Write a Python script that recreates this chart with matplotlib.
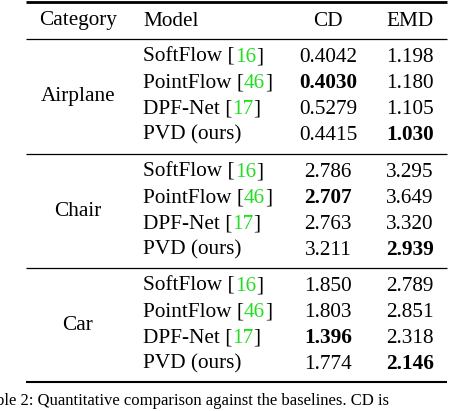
import matplotlib
matplotlib.use("Agg")
import matplotlib.pyplot as plt

categories = ["Airplane", "Chair", "Car"]
models = ["SoftFlow", "PointFlow", "DPF-Net", "PVD (ours)"]
refs = ["16", "46", "17", ""]
cd = [["0.4042", "0.4030", "0.5279", "0.4415"],
      ["2.786", "2.707", "2.763", "3.211"],
      ["1.850", "1.803", "1.396", "1.774"]]
emd = [["1.198", "1.180", "1.105", "1.030"],
       ["3.295", "3.649", "3.320", "2.939"],
       ["2.789", "2.851", "2.318", "2.146"]]
best_cd = [1, 1, 2]
best_emd = [3, 3, 3]

W, H = 474, 411
fig = plt.figure(figsize=(W/100, H/100), dpi=100)
ax = fig.add_axes([0, 0, 1, 1])
ax.set_xlim(0, W); ax.set_ylim(H, 0); ax.axis("off")
plt.rcParams["font.family"] = ["Liberation Serif", "DejaVu Serif"]
fs = 15.3
green = "#22dd22"

def hline(y, lw):
    ax.plot([26, 447], [y, y], color="black", lw=lw, solid_capstyle="butt")

hline(2, 2.0)
hline(39, 0.9)
ax.text(78, 21, "Category", fontsize=fs, ha="center", va="center")
ax.text(143, 21, "Model", fontsize=fs, ha="left", va="center")
ax.text(328, 21, "CD", fontsize=fs, ha="center", va="center")
ax.text(410, 21, "EMD", fontsize=fs, ha="center", va="center")

group_top = [39, 154, 268]
for g, cat in enumerate(categories):
    y0 = group_top[g] + 18
    ys = [y0 + 26*i for i in range(4)]
    ax.text(78, (ys[1]+ys[2])/2, cat, fontsize=fs, ha="center", va="center")
    for i, m in enumerate(models):
        y = ys[i]
        if refs[i]:
            t = ax.text(143, y, m + " [", fontsize=fs, ha="left", va="center")
            t2 = ax.annotate(refs[i], xycoords=t, xy=(1, 0.5), va="center", ha="left",
                             fontsize=fs, color=green)
            ax.annotate("]", xycoords=t2, xy=(1, 0.5), va="center", ha="left", fontsize=fs)
        else:
            ax.text(143, y, m, fontsize=fs, ha="left", va="center")
        ax.text(328, y, cd[g][i], fontsize=fs, ha="center", va="center",
                fontweight="bold" if best_cd[g] == i else "normal")
        ax.text(410, y, emd[g][i], fontsize=fs, ha="center", va="center",
                fontweight="bold" if best_emd[g] == i else "normal")
    if g < 2:
        hline(group_top[g+1], 0.9)
hline(382, 1.5)
ax.text(-4, 401, "ble 2: Quantitative comparison against the baselines. CD is",
        fontsize=12, ha="left", va="center")
fig.savefig("out.png", dpi=100)
